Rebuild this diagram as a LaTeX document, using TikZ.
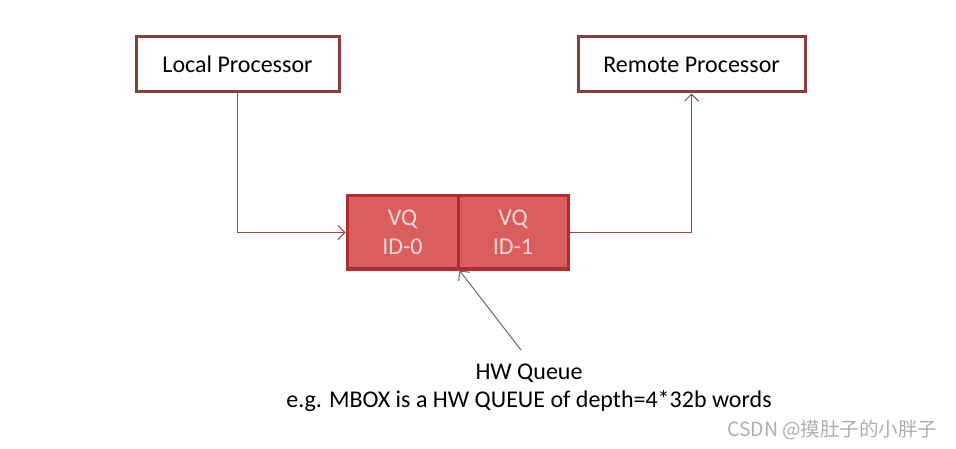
\documentclass[tikz,border=0pt]{standalone}
\usepackage{fontspec}
\setmainfont{Carlito}
\newfontfamily\cjk{Noto Sans CJK SC}
\usetikzlibrary{arrows.meta}
\definecolor{boxborder}{RGB}{140,62,62}
\definecolor{vqfill}{RGB}{218,94,94}
\definecolor{vqborder}{RGB}{178,46,46}
\definecolor{vqtext}{RGB}{250,214,214}
\definecolor{linecol}{RGB}{150,72,72}
\definecolor{hwline}{RGB}{120,96,96}
\definecolor{wmark}{RGB}{175,175,175}
\tikzset{
  procbox/.style={draw=boxborder, line width=3pt, fill=white, minimum height=55pt, font=\fontsize{24}{28}\selectfont, inner sep=0pt},
  vqbox/.style={draw=vqborder, line width=3pt, fill=vqfill, text=vqtext, minimum height=73pt, font=\fontsize{24}{29}\selectfont, align=center, inner sep=0pt},
  conn/.style={draw=linecol, line width=1pt, -{Straight Barb[length=7pt,width=14pt]}},
}
\begin{document}
\begin{tikzpicture}[x=1pt,y=-1pt]
\useasboundingbox (0,0) rectangle (956,449);
\node[procbox, minimum width=203pt] (local) at (237.5,64.5) {Local Processor};
\node[procbox, minimum width=227pt] (remote) at (691.5,64.5) {Remote Processor};
\node[vqbox, minimum width=111pt] (vq0) at (402.5,232.5) {VQ\\ID-0};
\node[vqbox, minimum width=110pt] (vq1) at (513,232.5) {VQ\\ID-1};
\node[align=center, font=\fontsize{24}{28}\selectfont] (hw) at (529,388) {HW Queue\\e.g. MBOX is a HW QUEUE of depth=4*32b words};
\coordinate (hwtail) at (521,350);
\node[text=wmark, font=\cjk\fontsize{19.5}{22}\selectfont, anchor=east] (wm) at (941,430) {CSDN @摸肚子的小胖子};
\draw[conn] (local.south) |- (vq0.west);
\draw[conn] (vq1.east) -| (remote.south);
\draw[conn, draw=hwline] (hwtail) -- (vq0.south east);
\end{tikzpicture}
\end{document}
